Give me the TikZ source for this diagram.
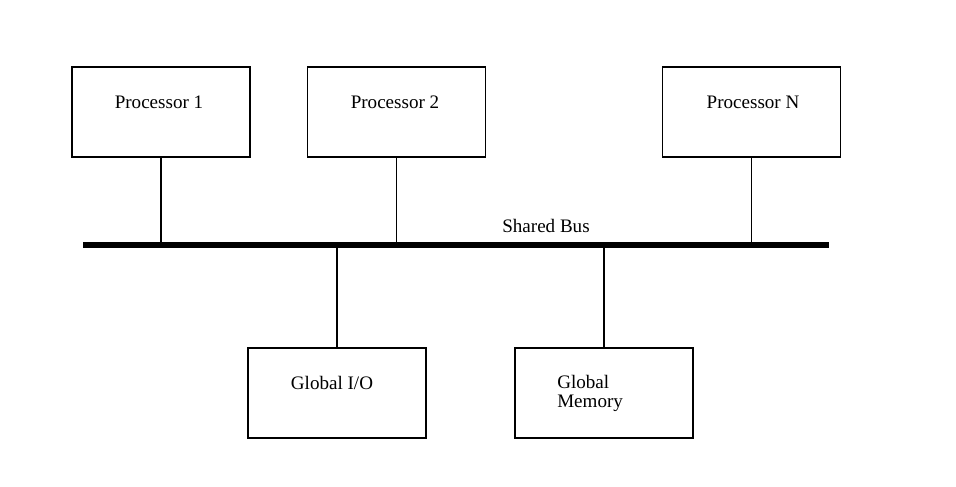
\documentclass[tikz,border=0pt]{standalone}
\usepackage{fontspec}
\setmainfont{Liberation Serif}
\begin{document}
\begin{tikzpicture}[x=0.75pt,y=-0.75pt,
  unit/.style={draw=black, line width=1.1pt, minimum width=133.5pt, minimum height=67.5pt, inner sep=0pt},
  lbl/.style={font=\fontsize{14.3}{14.6}\selectfont, inner sep=0pt},
  link/.style={line width=1.1pt},
  bus/.style={line width=5.2pt}]
\useasboundingbox (0,0) rectangle (956,486);
\node[unit] (p1) at (161,112) {};
\node[unit] (p2) at (396.5,112) {};
\node[unit] (pn) at (751.5,112) {};
\node[unit] (io) at (337,393) {};
\node[unit] (mem) at (604,393) {};
\node[lbl] (t1) at (159,102) {Processor 1};
\node[lbl] (t2) at (395,102) {Processor 2};
\node[lbl] (tn) at (753,102) {Processor N};
\node[lbl] (tio) at (332,383) {Global I/O};
\node[lbl, anchor=west, align=left] (tmem) at (557,393.5) {Global\\Memory};
\node[lbl] (tbus) at (546,226) {Shared Bus};
\coordinate (busL) at (83,245);
\coordinate (busR) at (829,245);
\draw[bus] (busL) -- (busR);
\draw[link] (p1.south) -- (p1.south |- busL);
\draw[link] (p2.south) -- (p2.south |- busL);
\draw[link] (pn.south) -- (pn.south |- busL);
\draw[link] (io.north) -- (io.north |- busL);
\draw[link] (mem.north) -- (mem.north |- busL);
\end{tikzpicture}
\end{document}
